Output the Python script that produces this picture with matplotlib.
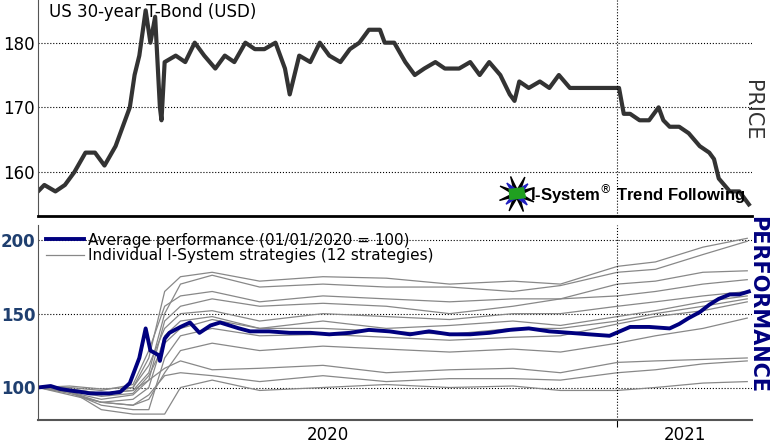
import math
import matplotlib
matplotlib.use("Agg")
from matplotlib import pyplot as plt
from matplotlib.patches import Polygon

# days since 01/01/2020
price_days = [0, 4, 11, 17, 23, 30, 36, 42, 49, 55, 58, 61, 64, 68, 71, 74, 77, 78, 80, 87,
              93, 99, 105, 112, 118, 124, 131, 137, 143, 150, 156, 159, 162, 165, 172, 178, 184, 191, 197, 203,
              209, 216, 219, 225, 232, 238, 244, 251, 257, 266, 273, 279, 285, 292, 298, 301, 304, 310, 317, 323,
              329, 336, 342, 348, 354, 361, 367, 370, 374, 380, 386, 392, 395, 399, 405, 411, 418, 424, 427, 430,
              437, 443, 446, 449]
price = [157, 158, 157, 158, 160, 163, 163, 161, 164, 168, 170, 175, 178, 185, 180, 184, 170, 168, 177, 178,
         177, 180, 178, 176, 178, 177, 180, 179, 179, 180, 176, 172, 175, 178, 177, 180, 178, 177, 179, 180,
         182, 182, 180, 180, 177, 175, 176, 177, 176, 176, 177, 175, 177, 175, 172, 171, 174, 173, 174, 173,
         175, 173, 173, 173, 173, 173, 173, 169, 169, 168, 168, 170, 168, 167, 167, 166, 164, 163, 162, 159,
         157, 157, 156, 155]

avg_days = [0, 8, 14, 20, 27, 33, 39, 45, 52, 58, 64, 68, 71, 76, 77, 80, 83, 90, 96, 102,
            109, 115, 121, 127, 134, 146, 159, 172, 184, 197, 209, 222, 235, 247, 260, 273, 285, 298, 310, 323,
            336, 348, 361, 374, 386, 399, 405, 411, 418, 424, 430, 437, 443, 449]
avg_perf = [100, 101, 99, 98, 97, 96, 96, 96, 97, 103, 120, 140, 125, 122, 118, 133, 137, 141, 144, 137,
            142, 144, 142, 140, 138, 138, 137, 137, 136, 137, 139, 138, 136, 138, 136, 136, 137, 139, 140, 138,
            137, 136, 135, 141, 141, 140, 143, 147, 151, 156, 160, 163, 163, 165]

strat_days = [0, 20, 40, 60, 70, 80, 90, 110, 140, 180, 220, 260, 300, 330, 366, 390, 420, 448]
strategies = [
    [100, 98, 95, 100, 120, 165, 175, 178, 172, 175, 174, 170, 172, 170, 182, 185, 195, 201],
    [100, 99, 96, 98, 110, 150, 170, 176, 168, 170, 168, 168, 165, 169, 178, 180, 190, 199],
    [100, 100, 98, 102, 125, 155, 162, 165, 158, 162, 160, 158, 160, 160, 170, 172, 178, 179],
    [100, 97, 92, 95, 105, 145, 155, 160, 155, 157, 155, 150, 155, 160, 162, 165, 170, 173],
    [100, 101, 99, 100, 115, 140, 150, 152, 145, 150, 148, 146, 150, 150, 155, 158, 162, 165],
    [100, 96, 90, 92, 100, 135, 145, 148, 140, 145, 140, 142, 145, 142, 148, 152, 158, 162],
    [100, 98, 94, 96, 108, 130, 140, 146, 140, 140, 138, 136, 140, 140, 145, 150, 155, 160],
    [100, 97, 88, 85, 85, 120, 135, 140, 135, 136, 134, 132, 134, 135, 143, 148, 152, 158],
    [100, 95, 90, 88, 92, 110, 125, 130, 125, 128, 126, 124, 126, 124, 130, 135, 140, 147],
    [100, 99, 96, 98, 105, 113, 118, 112, 113, 115, 110, 112, 113, 110, 117, 118, 119, 120],
    [100, 97, 90, 88, 95, 108, 110, 108, 104, 108, 104, 106, 106, 105, 110, 112, 116, 118],
    [100, 98, 85, 82, 82, 82, 100, 105, 98, 100, 102, 100, 101, 98, 98, 100, 103, 104],
]

years = ["2020", "2021"]
year_start = [0, 366]

navy = "#00007f"
tickblue = "#1f3f6f"
W, H = 773, 445
fig = plt.figure(figsize=(7.73, 4.45), dpi=100)
ax1 = fig.add_axes([38 / W, 1 - 216 / H, 714 / W, 216 / H])
ax2 = fig.add_axes([38 / W, 25 / H, 714 / W, 195 / H])

ax1.plot(price_days, price, color="#333333", lw=3.0)
ax1.set_ylim(153.2, 186.6)
ax1.set_yticks([160, 170, 180])
ax1.tick_params(axis="y", labelsize=12, length=0, pad=2)
ax1.text(0.015, 0.985, "US 30-year T-Bond (USD)", transform=ax1.transAxes, va="top", fontsize=12)
fig.text(0.973, 1 - 110 / H, "PRICE", rotation=-90, ha="center", va="center", fontsize=15, color="#333333")

for s in strategies:
    ax2.plot(strat_days, s, color="#888888", lw=0.9)
ax2.plot(avg_days, avg_perf, color=navy, lw=2.8)
ax2.set_ylim(78, 210)
ax2.set_yticks([100, 150, 200])
ax2.tick_params(axis="y", labelsize=12, length=0, pad=2, labelcolor=tickblue)
for t in ax2.get_yticklabels():
    t.set_fontweight("bold")
ax2.plot([], [], color=navy, lw=2.8, label="Average performance (01/01/2020 = 100)")
ax2.plot([], [], color="#888888", lw=0.9, label="Individual I-System strategies (12 strategies)")
h, l = ax2.get_legend_handles_labels()
ax2.legend(h[-2:], l[-2:], loc="upper left", frameon=False, fontsize=11, borderaxespad=0.1,
           handlelength=2.5, labelspacing=0.05, handletextpad=0.3)
fig.text(0.98, 1 - 305 / H, "PERFORMANCE", rotation=-90, ha="center", va="center", fontsize=15,
         color=navy, fontweight="bold")

for ax in (ax1, ax2):
    ax.set_xlim(0, 451)
    ax.grid(axis="y", color="black", ls=":", lw=0.8)
    ax.axvline(366, color="black", ls=":", lw=0.8)
    ax.spines["top"].set_visible(False)
    ax.spines["right"].set_visible(False)
    ax.spines["left"].set_color("#555555")
    ax.set_xticks([])
ax1.spines["bottom"].set_linewidth(2)
ax2.spines["bottom"].set_linewidth(1.5)
ax2.spines["bottom"].set_color("#555555")
ax2.set_xticks(year_start[1:])
ax2.tick_params(axis="x", length=5, labelbottom=False)
centers = [183, 408.5]
for c, y in zip(centers, years):
    ax2.text(c, -0.03, y, transform=ax2.get_xaxis_transform(), ha="center", va="top", fontsize=12)

# logo
cx, cy = 517 / W, 1 - 194 / H
r = 0.042
pts = []
for k in range(16):
    rr = r if k % 2 == 0 else r * 0.22
    a = k * math.pi / 8 + 0.35
    pts.append((cx + rr * math.cos(a) * H / W, cy + rr * math.sin(a)))
fig.patches.append(Polygon(pts, closed=True, transform=fig.transFigure, color="black"))
pts2 = []
for k in range(8):
    rr = r * 0.8 if k % 2 == 0 else r * 0.2
    a = k * math.pi / 4 + 0.75
    pts2.append((cx + rr * math.cos(a) * H / W, cy + rr * math.sin(a)))
fig.patches.append(Polygon(pts2, closed=True, transform=fig.transFigure, color="#2020c0"))
fig.patches.append(Polygon([(cx - 0.009, cy - 0.012), (cx + 0.011, cy - 0.008), (cx + 0.008, cy + 0.014),
                            (cx - 0.01, cy + 0.01)], closed=True, transform=fig.transFigure, color="#20a020"))
fig.text(530 / W, cy, "I-System$^{\\circledR}$ Trend Following", ha="left", va="center", fontsize=12,
         fontweight="bold", family=["Liberation Sans", "DejaVu Sans"])

fig.savefig("out.png", dpi=100)
